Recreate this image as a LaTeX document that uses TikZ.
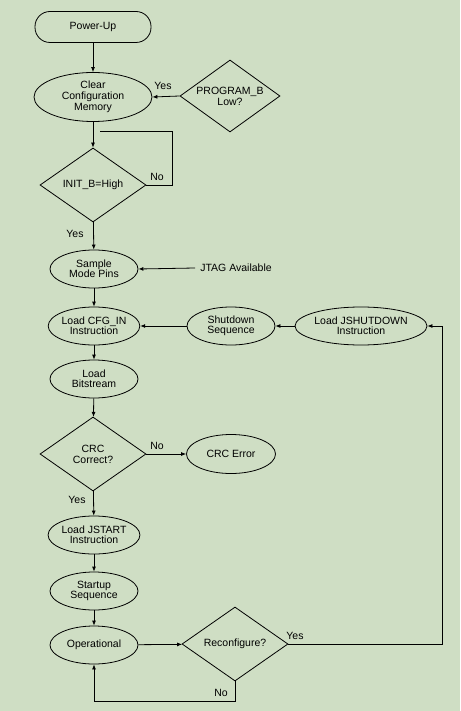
\documentclass[tikz,border=0pt]{standalone}
\usepackage{fontspec}
\setmainfont{Liberation Sans}
\usetikzlibrary{shapes.geometric,arrows.meta}

\definecolor{bggreen}{RGB}{207,222,196}

\tikzset{
    flow/.style={draw, line width=0.8pt, font=\fontsize{10.5}{11}\selectfont, align=center, inner sep=0pt},
    terminal/.style={flow, rectangle, rounded corners=15pt, minimum width=116pt, minimum height=31pt},
    state/.style={flow, ellipse, minimum width=88pt, minimum height=38pt, font=\fontsize{10.5}{10}\selectfont},
    bigstate/.style={flow, ellipse, minimum width=118pt, minimum height=49pt},
    decision/.style={flow, diamond, aspect=1.4, minimum width=106pt, minimum height=74pt},
    label/.style={font=\fontsize{10.5}{11}\selectfont, inner sep=1pt},
    conn/.style={line width=0.8pt, -{Latex[length=5pt,width=4pt]}},
    link/.style={line width=0.8pt}
}

\begin{document}
\begin{tikzpicture}[x=1pt, y=-1pt]
    \fill[bggreen] (0,0) rectangle (460,711);
    \useasboundingbox (0,0) rectangle (460,711);

    % main column
    \node[terminal] (powerup) at (93,27) {Power-Up};
    \node[bigstate] (clear) at (93,97) {Clear\\Configuration\\Memory};
    \node[decision, minimum width=100pt, minimum height=72pt] (progb) at (230,96) {PROGRAM\_B\\Low?};
    \node[decision] (initb) at (93,185) {INIT\_B=High};
    \node[state] (sample) at (94,269) {Sample\\Mode Pins};
    \node[state] (cfgin) at (94,326) {Load CFG\_IN\\Instruction};
    \node[state] (shutdown) at (231,326) {Shutdown\\Sequence};
    \node[state, minimum width=98pt] (jshutdown) at (361,326) {Load JSHUTDOWN\\Instruction};
    \node[state] (bitstream) at (94,379) {Load\\Bitstream};
    \node[decision] (crc) at (93,454) {CRC\\Correct?};
    \node[state, minimum width=89pt, minimum height=39pt] (crcerror) at (231,454) {CRC Error};
    \node[state] (jstart) at (94,535) {Load JSTART\\Instruction};
    \node[state] (startup) at (94,591) {Startup\\Sequence};
    \node[state] (oper) at (94,645) {Operational};
    \node[decision] (reconf) at (235,644) {Reconfigure?};

    % side texts
    \node[label] (jtag) at (236,268) {JTAG Available};
    \node[label] (yesprog) at (163,86) {Yes};
    \node[label] (noinit) at (157,177) {No};
    \node[label] (yesinit) at (75,234) {Yes};
    \node[label] (nocrc) at (157,446) {No};
    \node[label] (yescrc) at (77,500) {Yes};
    \node[label] (yesreconf) at (295,636) {Yes};
    \node[label] (noreconf) at (221,693) {No};

    \coordinate (loopright) at (172,131);
    \coordinate (loopend) at (100,131);
    \coordinate (rightline) at (442,326);
    \coordinate (nobottom) at (235,701);

    % connectors
    \draw[conn] (powerup) -- (clear);
    \draw[conn] (progb.west) -- (clear.east);
    \draw[conn] (clear) -- (initb);
    \draw[link] (initb.east) -| (loopright) -- (loopend);
    \draw[conn] (initb) -- (sample);
    \draw[conn] (jtag.west) ++(-4,0) -- (sample.east);
    \draw[conn] (sample) -- (cfgin);
    \draw[conn] (cfgin) -- (bitstream);
    \draw[conn] (shutdown) -- (cfgin);
    \draw[conn] (jshutdown) -- (shutdown);
    \draw[conn] (bitstream) -- (crc);
    \draw[conn] (crc) -- (crcerror);
    \draw[conn] (crc) -- (jstart);
    \draw[conn] (jstart) -- (startup);
    \draw[conn] (startup) -- (oper);
    \draw[conn] (oper) -- (reconf);
    \draw[conn] (reconf.east) -| (rightline) -- (jshutdown.east);
    \draw[conn] (reconf.south) -- (nobottom) -| (oper.south);

\end{tikzpicture}
\end{document}
